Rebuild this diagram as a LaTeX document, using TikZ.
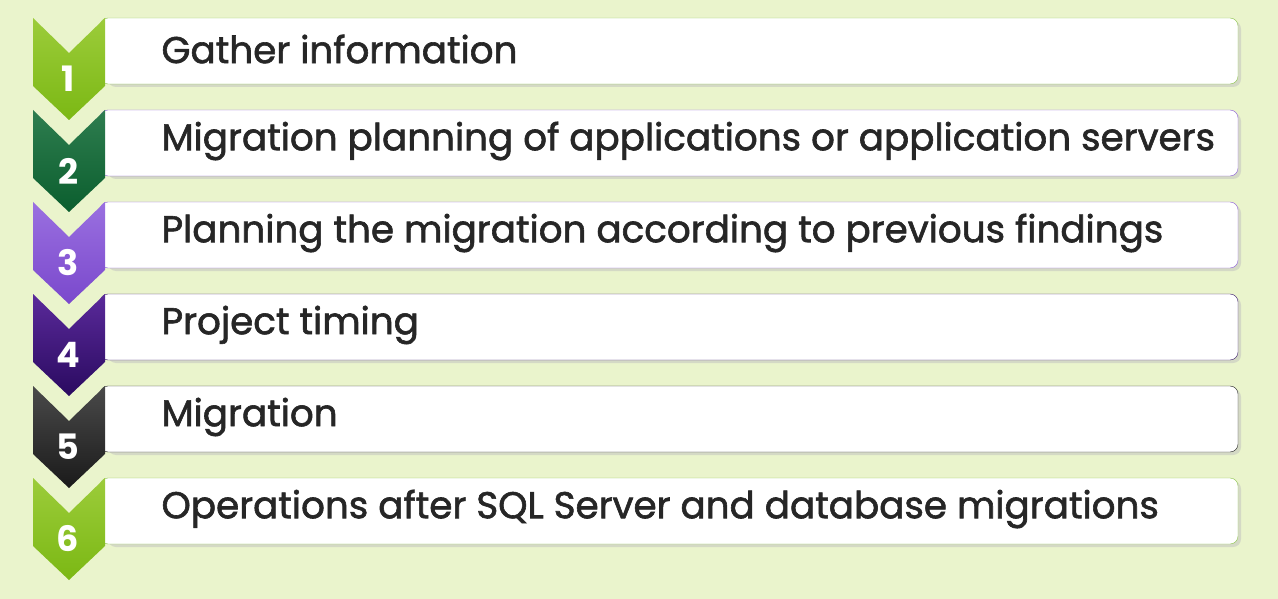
\documentclass[tikz,border=0pt]{standalone}
\usepackage{fontspec}
\setmainfont{Poppins}
\newfontfamily\lblfont[FakeBold=1.6]{Poppins}
\begin{document}
\begin{tikzpicture}[x=1pt,y=-1pt]
\definecolor{bg}{HTML}{EAF4CC}
\fill[bg] (0,0) rectangle (1278,599);
\useasboundingbox (0,0) rectangle (1278,599);
\tikzset{lbl/.style={anchor=west,font=\lblfont\fontsize{37.3}{40}\selectfont,text=black!85},
num/.style={font=\bfseries\fontsize{35}{38}\selectfont,text=white}}
\foreach \i/\ct/\cb/\bd/\t [count=\k from 0] in {
1/9CCC3A/7BB814/8BC34A/Gather information,
2/2E7D4F/0B5E2E/8A5CD6/Migration planning of applications or application servers,
3/9A70E0/7A48CC/8A5CD6/Planning the migration according to previous findings,
4/5A2A9A/2A0A60/3A1A6A/Project timing,
5/4A4A4A/1A1A1A/222222/Migration,
6/9CCC3A/7BB814/8BC34A/Operations after SQL Server and database migrations}{
\pgfmathsetmacro{\y}{18+92*\k}
\definecolor{ct}{HTML}{\ct}\definecolor{cb}{HTML}{\cb}\definecolor{bd}{HTML}{\bd}
\fill[black!25,opacity=.5,rounded corners=8] (108,\y+3) rectangle (1241,\y+69);
\draw[bd,fill=white,rounded corners=8] (100,\y) rectangle (1238,\y+66);
\node[lbl] (t\i) at (158,\y+31) {\t};
\shade[top color=ct,bottom color=cb] (33,\y) -- (69,\y+35) -- (105,\y) -- (105,\y+68) -- (69,\y+102) -- (33,\y+68) -- cycle;
\node[num] (n\i) at (68,\y+61) {\i};
}
\end{tikzpicture}
\end{document}
